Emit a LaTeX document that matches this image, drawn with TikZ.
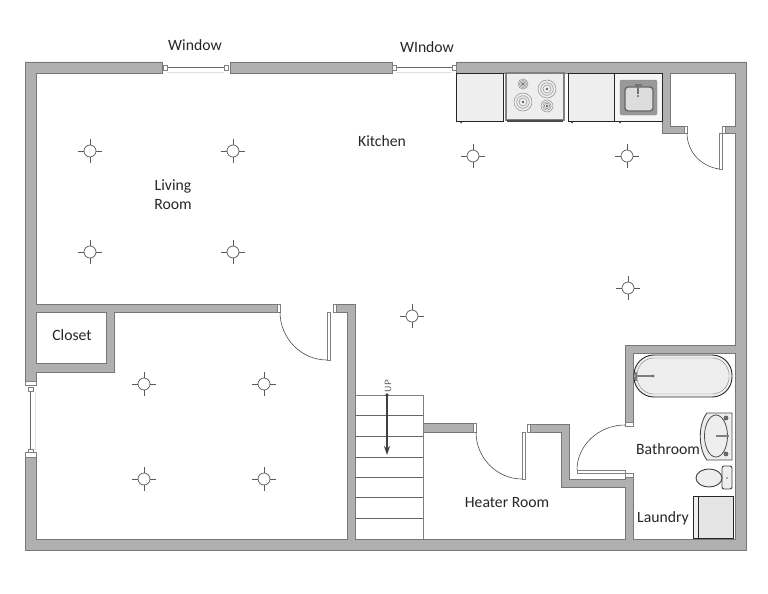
\documentclass[tikz,border=0pt]{standalone}
\usepackage{fontspec}
\setmainfont{Carlito}
\usetikzlibrary{arrows.meta}
\definecolor{wallgray}{HTML}{B0B0B0}
\definecolor{walledge}{HTML}{777777}
\definecolor{unitgray}{HTML}{EEEEEE}
\tikzset{
	wall/.style={draw=walledge,fill=wallgray,line width=0.9pt,line join=miter},
	jamb/.style={draw=gray,fill=white,line width=0.6pt},
	pane/.style={draw=gray!80!black,line width=0.8pt},
	leaf/.style={draw=gray,fill=white,line width=0.7pt},
	swing/.style={draw=black!70,line width=0.6pt},
	tread/.style={draw=black!60,line width=0.8pt},
	unit/.style={draw=black!85,fill=unitgray,line width=0.9pt},
	lamp/.style={draw=black!65,line width=0.7pt},
	roomlabel/.style={font=\fontsize{15.7}{19}\selectfont,text=black!85,align=center,inner sep=0pt}
}
\begin{document}
\begin{tikzpicture}[x=1pt,y=-1pt]
\useasboundingbox (0,0) rectangle (768,594);
% walls
\draw[wall] (456,62)--(746,62)--(746,550)--(25,550)--(25,452)--(36,452)--(36,539)--(347,539)--(347,312)--(333,312)--(333,304)--(355,304)--(355,539)--(625,539)--(625,487)--(561,487)--(561,432)--(527,432)--(527,424)--(569,424)--(569,479)--(625,479)--(625,477)--(633,477)--(633,539)--(735,539)--(735,353)--(633,353)--(633,422)--(625,422)--(625,345)--(735,345)--(735,133)--(722,133)--(722,126)--(735,126)--(735,73)--(670,73)--(670,126)--(687,126)--(687,133)--(662,133)--(662,73)--(456,73)--cycle;
\draw[wall] (162,62)--(25,62)--(25,385)--(36,385)--(36,372)--(114,372)--(114,312)--(280,312)--(280,304)--(36,304)--(36,73)--(162,73)--cycle;
\draw[wall,fill=white] (36,312) rectangle (106,363);
\draw[wall] (230,62) rectangle (392,73);
\draw[wall] (423,423) rectangle (476,432);
% windows
\draw[pane] (167,67)--(224,67);
\draw[pane] (396,67)--(452,67);
\draw[pane] (30,392)--(30,450);
\draw[gray!25] (167,72)--(224,72) (396,72)--(452,72) (35,392)--(35,450);
\foreach \x in {163,224,392,452}{
	\draw[jamb] (\x,65) rectangle (\x+4,70);
}
\draw[jamb] (28,387) rectangle (33,391);
\draw[jamb] (28,449) rectangle (33,453);
\draw[jamb] (25,452) rectangle (36,457);
\draw[jamb] (25,381) rectangle (36,385);
% door ends
\draw[jamb] (473,423) rectangle (476,432);
\draw[jamb] (527,424) rectangle (530,432);
\draw[jamb] (277,304) rectangle (280,312);
\draw[jamb] (333,304) rectangle (336,312);
\draw[jamb] (684,126) rectangle (687,133);
\draw[jamb] (722,126) rectangle (725,133);
\draw[jamb] (625,422) rectangle (633,426);
\draw[jamb] (625,473) rectangle (633,477);
% doors
\draw[leaf] (522,432) rectangle (525,479);
\draw[swing] (476,432) .. controls (476,458) and (497,479) .. (522,479);
\draw[leaf] (327,312) rectangle (330,360);
\draw[swing] (280,312) .. controls (280,338) and (301,360) .. (327,360);
\draw[leaf] (719,133) rectangle (722,169);
\draw[swing] (687,133) .. controls (687,151) and (700,166) .. (719,169);
\draw[leaf] (577,470) rectangle (625,473);
\draw[swing] (625,425) .. controls (599,425) and (577,445) .. (577,470);
% stairs
\draw[gray,line width=0.8pt] (355,395)--(423,395)--(423,539);
\foreach \y in {415,436,457,477,497,518}{
	\draw[tread] (355,\y)--(423,\y);
}
\coordinate (upstart) at (387,395);
\coordinate (upend) at (387,455);
\fill[black!75] (upstart) circle [radius=1.8pt];
\draw[black!75,line width=1.4pt,-{Stealth[length=9pt,width=6pt]}] (upstart)--(upend);
\node[font=\fontsize{9}{10}\selectfont\sffamily,text=black!70,rotate=90,inner sep=0pt] (uplabel) at (388,386) {UP};
% kitchen
\draw[unit] (456,73) rectangle (503,121);
\draw[unit] (568,73) rectangle (614,121);
\draw[unit,fill=white!50!unitgray] (614,73) rectangle (662,121);
\draw[unit,draw=gray,line width=1.2pt] (506,73) rectangle (564,120);
\draw[black!70,line width=1.2pt] (507,121)--(563,121);
\foreach \x in {461,572,620}{
	\fill[black!70] (\x,122.5) circle [radius=1pt];
}
\foreach \x/\y/\r in {547/89/9,523/102/9,523/84/5,547/106/6}{
	\draw[gray!90,line width=0.5pt] (\x,\y) circle [radius=\r pt];
	\draw[gray!90,line width=0.5pt] (\x,\y) circle [radius=0.7*\r pt];
	\draw[gray!90,line width=0.5pt] (\x,\y) circle [radius=0.45*\r pt];
	\fill[black!60] (\x,\y) circle [radius=1.3pt];
}
\draw[draw=gray,fill=gray!80,rounded corners=2pt] (620,80) rectangle (657,115);
\draw[draw=black!60,fill=unitgray!85!gray,line width=1.4pt,rounded corners=3pt] (625,87) rectangle (653,111);
\draw[black!55,line width=1.2pt] (638,85)--(638,94) (635,85)--(642,85);
\fill[black!60] (638,96) circle [radius=1.2pt];
% bathroom
\draw[unit,rounded corners=20pt] (634,355) rectangle (732,397);
\draw[gray,fill=unitgray,rounded corners=17pt] (637,358) rectangle (729,394);
\draw[gray,line width=1.2pt] (636,372)--(636,381) (637,376)--(652,376);
\fill[black!60] (653,376) circle [radius=1.5pt];
\draw[draw=black!70,fill=unitgray,line width=0.9pt] (732,413)--(707,413) .. controls (698,424) and (698,449) .. (707,460)--(732,460)--cycle;
\draw[draw=black!70,fill=unitgray,line width=0.8pt] (716,436) ellipse [x radius=11.5pt,y radius=21pt];
\draw[gray,line width=1.2pt] (716,436)--(729,436);
\fill[black!60] (726,418) circle [radius=2.4pt];
\fill[black!60] (726,454) circle [radius=2.4pt];
\draw[draw=black!75,fill=unitgray,line width=0.9pt,rounded corners=2pt] (722,466) rectangle (732,489);
\fill[black!60] (727,478) circle [radius=0.9pt];
\draw[draw=black!75,fill=unitgray,line width=0.9pt] (709,478) ellipse [x radius=13pt,y radius=9pt];
\draw[unit,fill=unitgray!92!gray] (698,496) rectangle (733,538);
\draw[black!85,fill=unitgray,line width=0.9pt] (693,496) rectangle (698,538);
% lights
\foreach \x/\y in {90/151,233/151,90/252,233/252,473/156,627/156,412/316,628/288,144/384,264/384,144/479,264/479}{
	\draw[lamp] (\x,\y) circle [radius=6pt];
	\draw[lamp] (\x-12,\y)--(\x-6,\y) (\x+6,\y)--(\x+12,\y) (\x,\y-12)--(\x,\y-6) (\x,\y+6)--(\x,\y+12);
}
% labels
\node[roomlabel] (windowa) at (195,45) {Window};
\node[roomlabel] (windowb) at (427,47) {WIndow};
\node[roomlabel] (kitchen) at (382,141.5) {Kitchen};
\node[roomlabel] (living) at (173,194.5) {Living\\Room};
\node[roomlabel] (closet) at (72,335.5) {Closet};
\node[roomlabel] (bathroom) at (668,449) {Bathroom};
\node[roomlabel] (laundry) at (663,518) {Laundry};
\node[roomlabel] (heater) at (507,502.5) {Heater Room};
\end{tikzpicture}
\end{document}
